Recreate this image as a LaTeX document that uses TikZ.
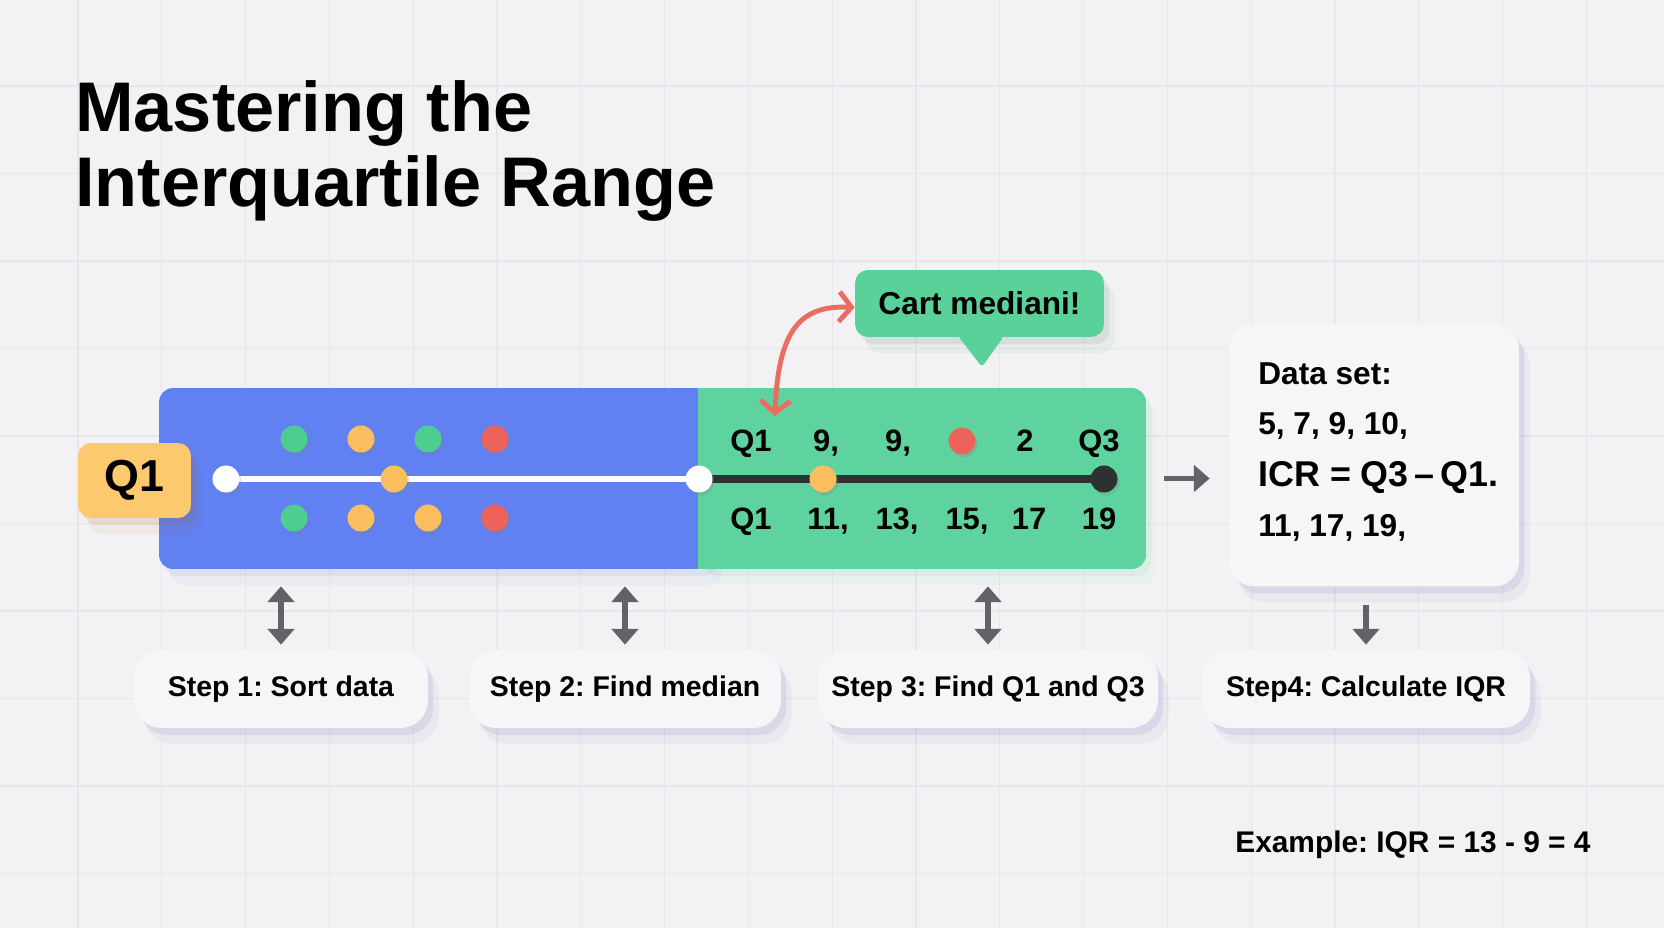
\documentclass[tikz,border=0pt]{standalone}
\usepackage{fontspec}
\setmainfont{Liberation Sans}
\usepackage{tikz}
\usetikzlibrary{arrows.meta,positioning,shadows}
\frenchspacing

\definecolor{bgcol}{RGB}{242,242,244}
\definecolor{gridcol}{RGB}{231,231,235}
\definecolor{barblue}{RGB}{97,129,242}
\definecolor{bargreen}{RGB}{94,211,160}
\definecolor{tipgreen}{RGB}{90,209,152}
\definecolor{qorange}{RGB}{252,201,110}
\definecolor{dotgreen}{RGB}{78,205,145}
\definecolor{dotorange}{RGB}{250,190,95}
\definecolor{dotred}{RGB}{238,98,92}
\definecolor{cardcol}{RGB}{246,246,248}
\definecolor{arrowgray}{RGB}{98,98,104}
\definecolor{arrowred}{RGB}{236,108,98}
\definecolor{linedark}{RGB}{45,50,48}

\begin{document}
\begin{tikzpicture}[x=0.02cm, y=-0.02cm,
  soft/.style={general shadow={fill=#1, opacity=.10, shadow xshift=3pt, shadow yshift=-4pt},
               general shadow={fill=#1, opacity=.06, shadow xshift=6pt, shadow yshift=-9pt}},
  bar/.style={fill=#1, rounded corners=0.28cm, minimum height=3.62cm, inner sep=0pt, soft=#1},
  dot/.style={circle, fill=#1, minimum size=0.54cm, inner sep=0pt,
              drop shadow={shadow xshift=1.2pt, shadow yshift=-1.8pt, opacity=.22}},
  num/.style={font=\bfseries\fontsize{17.6}{21}\selectfont, anchor=base, inner sep=0pt},
  dat/.style={font=\bfseries\fontsize{18}{22}\selectfont, anchor=base west, inner sep=0pt},
  card/.style={fill=cardcol, rounded corners=0.55cm, minimum height=1.56cm, inner sep=0pt,
               font=\bfseries\fontsize{16.2}{20}\selectfont, soft=blue!35!gray},
  dbl/.style={{Triangle[length=9pt,width=15pt]}-{Triangle[length=9pt,width=15pt]}, line width=3.4pt, arrowgray},
  sgl/.style={-{Triangle[length=9pt,width=15pt]}, line width=3.4pt, arrowgray},
  redarr/.style={{Straight Barb[length=7pt,width=17pt]}-{Straight Barb[length=7pt,width=17pt]},
                 line width=2.8pt, arrowred, line cap=round}
]
\useasboundingbox (0,0) rectangle (1664,928);

% Background and grid
\fill[bgcol] (0,0) rectangle (1664,928);
\foreach \i in {0,...,18}
  \draw[gridcol, line width=0.6pt] ({78+83.8*\i},0) -- ({78+83.8*\i},928);
\foreach \i in {0,...,9}
  \draw[gridcol, line width=0.6pt] (0,{86+87.5*\i}) -- (1664,{86+87.5*\i});

% Title
\node[font=\bfseries\fontsize{40}{46}\selectfont, anchor=base west, inner sep=0pt] (title1) at (75,132) {Mastering the};
\node[font=\bfseries\fontsize{40}{46}\selectfont, anchor=base west, inner sep=0pt] (title2) at (75,207) {Interquartile Range};

% Bars
\node[bar=barblue, minimum width=11.06cm] (blue) at (435.5,478.5) {};
\node[bar=bargreen, minimum width=8.96cm] (green) at (922,478.5) {};
\fill[bargreen] (698,388) rectangle (722,569);

% Q1 tag
\node[fill=qorange, rounded corners=0.26cm, minimum width=2.26cm, minimum height=1.5cm, inner sep=0pt,
      soft=orange!70!black, font=\bfseries\fontsize{25.5}{30}\selectfont] (qtag) at (134.5,480.5) {Q1};

% Number line
\coordinate (lstart) at (226,479);
\coordinate (lmid)   at (699,479);
\coordinate (lend)   at (1104,479);
\draw[white, line width=3.4pt] (lstart) -- (lmid);
\draw[linedark, line width=4pt] (lmid) -- (lend);
\node[dot=white] (wl) at (lstart) {};
\node[dot=white] (wr) at (lmid) {};
\node[dot=dotorange] (ob) at (394,479) {};
\node[dot=dotorange] (og) at (823,479) {};
\node[dot=linedark] (bk) at (lend) {};

% Dots on the blue part
\foreach \x/\c [count=\i] in {294/dotgreen, 361/dotorange, 428/dotgreen, 495/dotred}
  \node[dot=\c] (top\i) at (\x,439) {};
\foreach \x/\c [count=\i] in {294/dotgreen, 361/dotorange, 428/dotorange, 495/dotred}
  \node[dot=\c] (bot\i) at (\x,518) {};

% Values on the green part
\foreach \x/\t [count=\i] in {751/Q1, 826/{9,}, 898/{9,}, 1025/2, 1099/Q3}
  \node[num] (up\i) at (\x,452) {\t};
\node[dot=dotred] (rdot) at (962,441) {};
\foreach \x/\t [count=\i] in {751/Q1, 828/{11,}, 897/{13,}, 967/{15,}, 1029/17, 1099/19}
  \node[num] (lo\i) at (\x,530) {\t};

% Callout
\node[fill=tipgreen, rounded corners=0.26cm, minimum width=4.98cm, minimum height=1.34cm, inner sep=0pt,
      soft=tipgreen!60!black, font=\bfseries\fontsize{18}{22}\selectfont] (tip) at (979.5,303.5) {Cart mediani!};
\fill[tipgreen, rounded corners=2pt] (958,336) -- (982,367) -- (1004,336) -- cycle;
\draw[redarr] ([yshift=-0.08cm]tip.west) .. controls (800,305) and (778,330) .. ([xshift=0.48cm, yshift=0.28cm]up1.north);

% Data set card
\node[fill=cardcol, rounded corners=0.5cm, minimum width=5.8cm, minimum height=5.26cm, inner sep=0pt,
      soft=blue!35!gray] (data) at (1374,455) {};
\node[dat] (dl1) at (1258,385) {Data set:};
\node[dat] (dl2) at (1258,435) {5, 7, 9, 10,};
\node[dat, font=\bfseries\fontsize{20.4}{24}\selectfont] (dl3) at (1258,487) {ICR = Q3\,–\,Q1.};
\node[dat] (dl4) at (1258,537) {11, 17, 19,};
\draw[sgl, shorten <=0.36cm, shorten >=0.38cm] (green.east) -- (green.east -| data.west);

% Steps
\foreach \x/\w/\t [count=\i] in {281/5.88/Step 1: Sort data, 625/6.24/Step 2: Find median,
                                 988/6.8/Step 3: Find Q1 and Q3, 1366/6.56/Step4: Calculate IQR}
  \node[card, minimum width=\w cm] (step\i) at (\x,689) {\t};
\foreach \i in {1,2,3}
  \draw[dbl, shorten <=0.1cm, shorten >=0.34cm] (step\i.north) -- (step\i.north |- blue.south);
\draw[sgl, shorten <=0.36cm, shorten >=0.1cm] (step4.north |- data.south) -- (step4.north);

% Example
\node[font=\bfseries\fontsize{17}{20}\selectfont, anchor=base west, inner sep=0pt] (example) at (1235,852) {Example: IQR = 13 - 9 = 4};
\end{tikzpicture}
\end{document}
